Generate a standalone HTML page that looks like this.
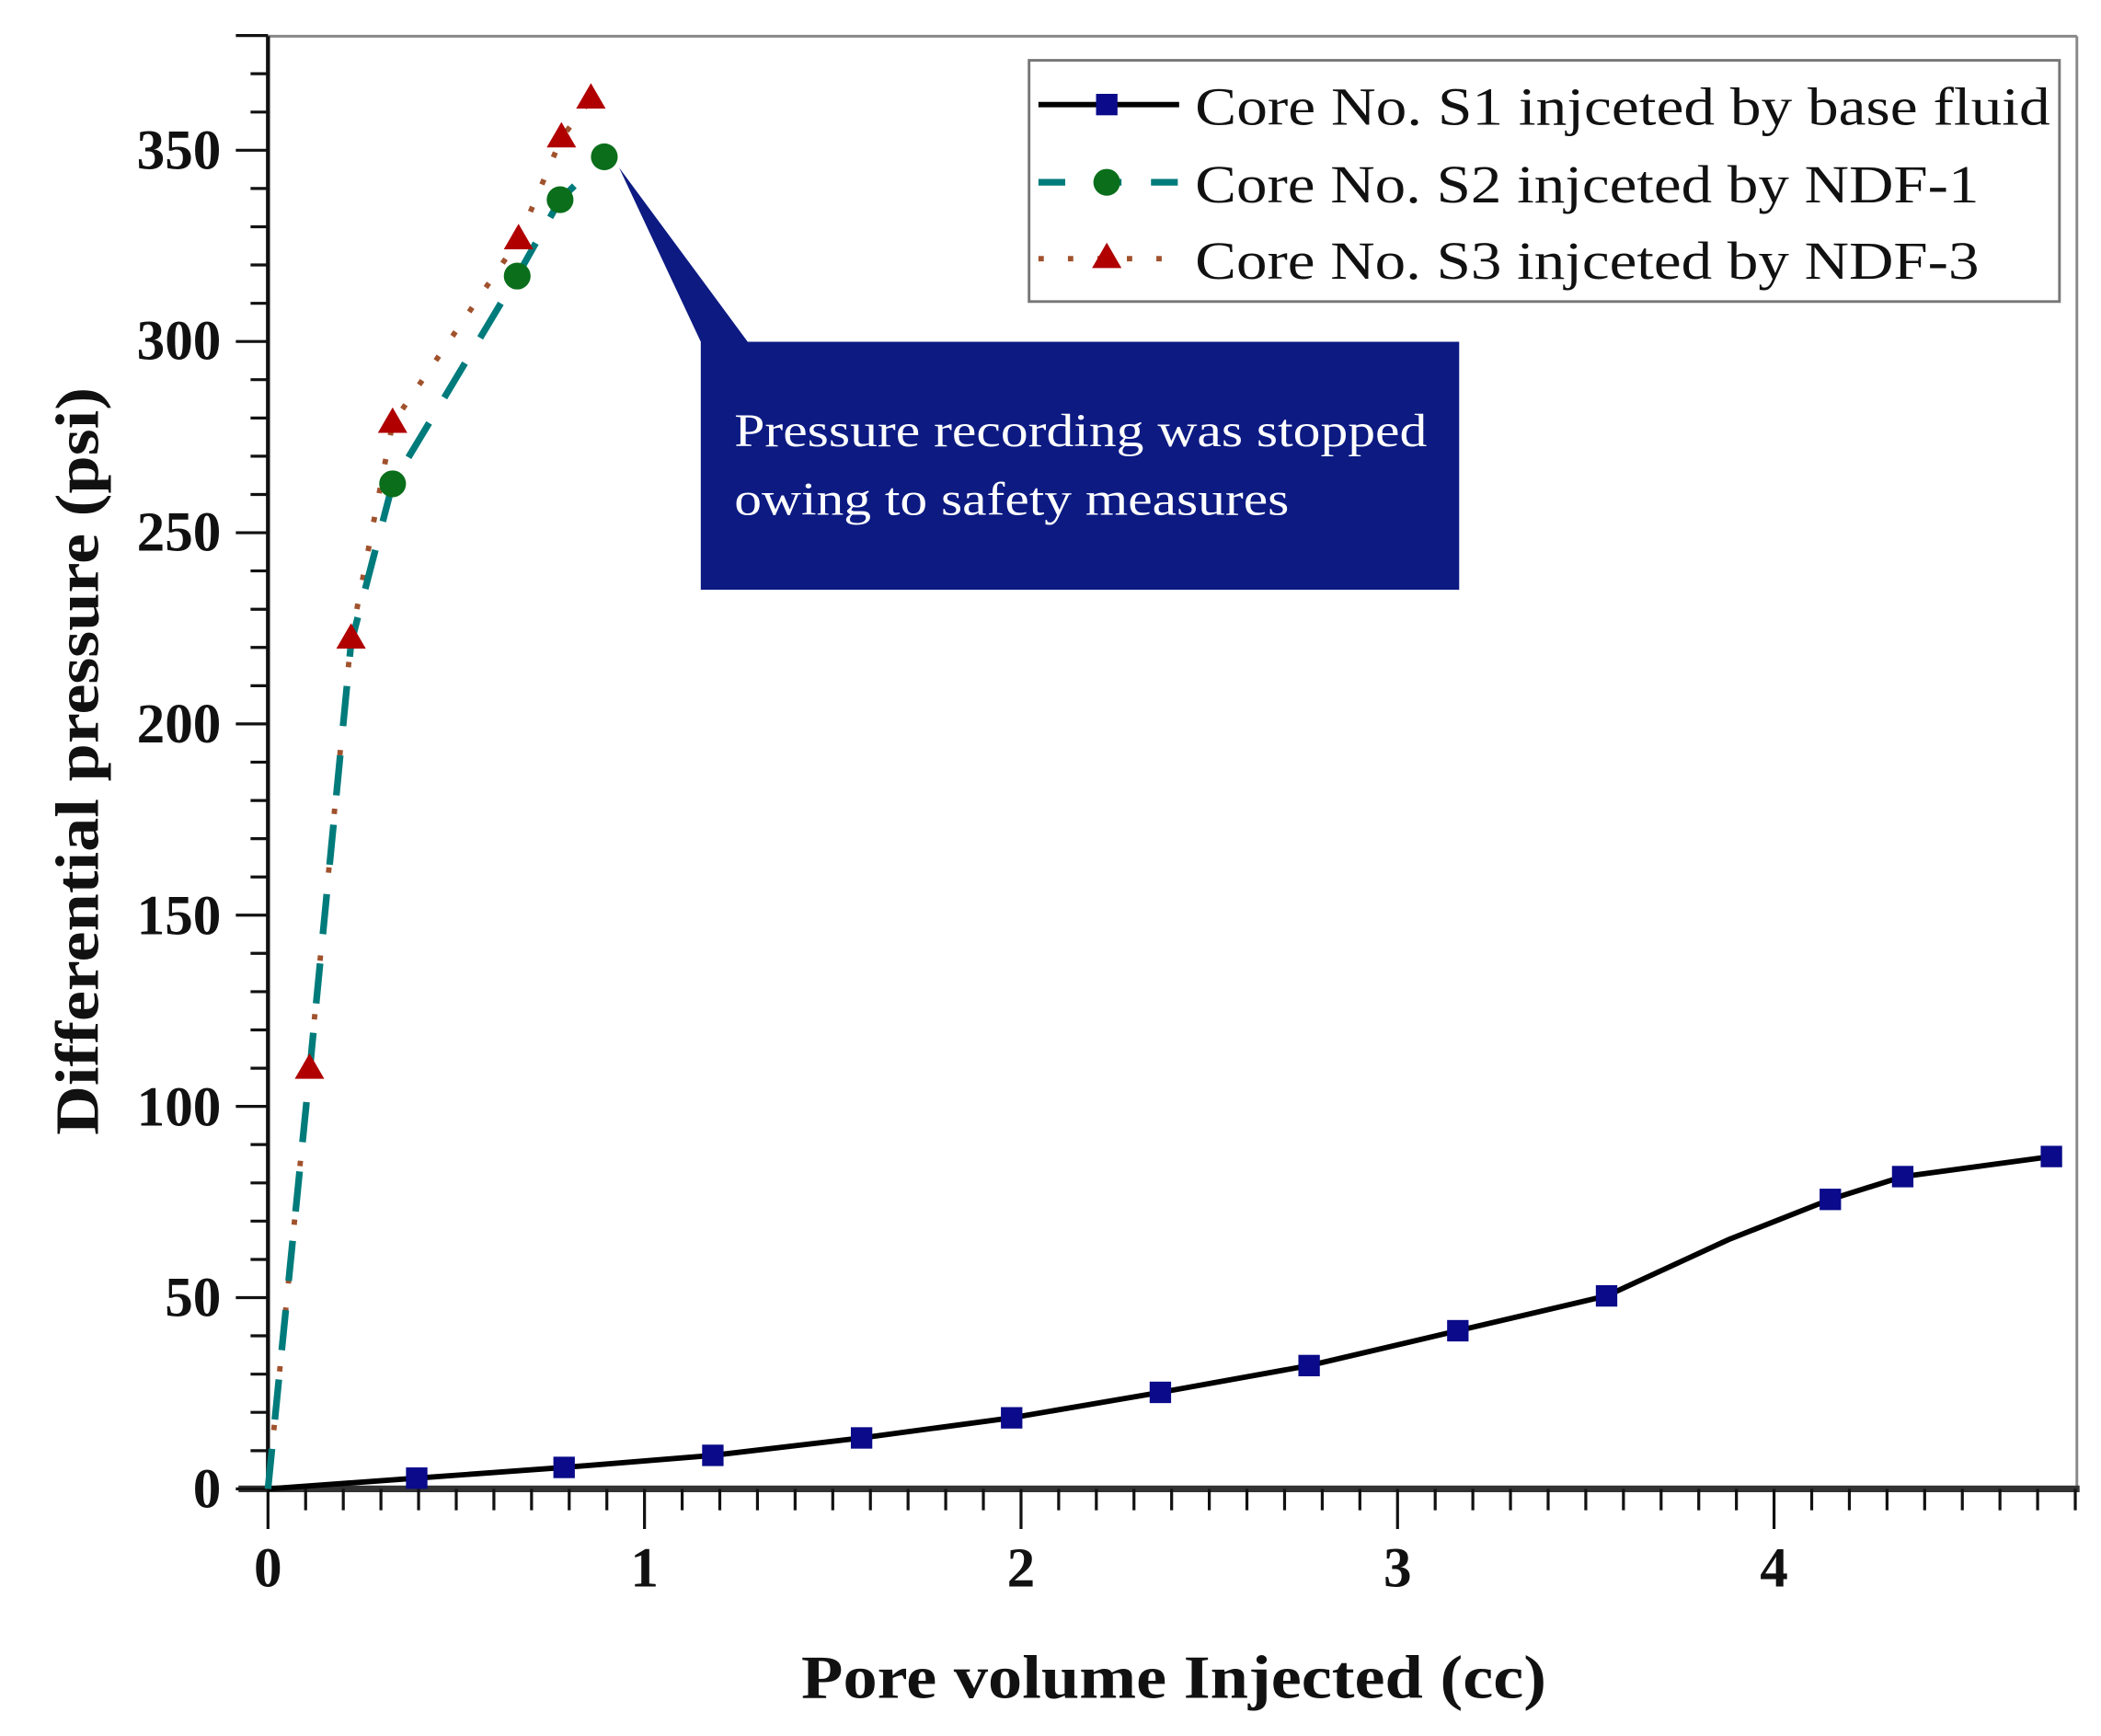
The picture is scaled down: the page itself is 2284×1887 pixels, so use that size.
<!DOCTYPE html>
<html><head><meta charset="utf-8"><style>html,body{margin:0;padding:0;background:#fff}svg{display:block}</style></head>
<body>
<svg width="2284" height="1887" viewBox="0 0 1568 1295.4" xmlns="http://www.w3.org/2000/svg" font-family="Liberation Serif, serif">
<rect width="1568" height="1296" fill="#fff"/>
<line x1="200" y1="27" x2="1550" y2="27" stroke="#888" stroke-width="2"/>
<line x1="1550" y1="27" x2="1550" y2="1111" stroke="#888" stroke-width="2"/>
<line x1="200" y1="27" x2="200" y2="1111" stroke="#111" stroke-width="3"/>
<line x1="178" y1="1111" x2="1552" y2="1111" stroke="#333" stroke-width="5"/>
<path stroke="#111" stroke-width="2.2" fill="none" d="
M176 1111h24 M187 1082.5h13 M187 1053.9h13 M187 1025.4h13 M187 996.8h13 M176 968.3h24 M187 939.8h13 M187 911.2h13 M187 882.7h13 M187 854.1h13
M176 825.6h24 M187 797.1h13 M187 768.5h13 M187 740h13 M187 711.4h13 M176 682.9h24 M187 654.4h13 M187 625.8h13 M187 597.3h13 M187 568.7h13
M176 540.2h24 M187 511.7h13 M187 483.1h13 M187 454.6h13 M187 426h13 M176 397.5h24 M187 369h13 M187 340.4h13 M187 311.9h13 M187 283.3h13
M176 254.8h24 M187 226.3h13 M187 197.7h13 M187 169.2h13 M187 140.6h13 M176 112.1h24 M187 83.6h13 M187 55h13 M176 26.5h24
M200 1111v30 M228.1 1111v16 M256.2 1111v16 M284.3 1111v16 M312.4 1111v16 M340.5 1111v16 M368.6 1111v16 M396.7 1111v16 M424.8 1111v16 M452.9 1111v16
M481 1111v30 M509.1 1111v16 M537.2 1111v16 M565.3 1111v16 M593.4 1111v16 M621.5 1111v16 M649.6 1111v16 M677.7 1111v16 M705.8 1111v16 M733.9 1111v16
M762 1111v30 M790.1 1111v16 M818.2 1111v16 M846.3 1111v16 M874.4 1111v16 M902.5 1111v16 M930.6 1111v16 M958.7 1111v16 M986.8 1111v16 M1014.9 1111v16
M1043 1111v30 M1071.1 1111v16 M1099.2 1111v16 M1127.3 1111v16 M1155.4 1111v16 M1183.5 1111v16 M1211.6 1111v16 M1239.7 1111v16 M1267.8 1111v16 M1295.9 1111v16
M1324 1111v30 M1352.1 1111v16 M1380.2 1111v16 M1408.3 1111v16 M1436.4 1111v16 M1464.5 1111v16 M1492.6 1111v16 M1520.7 1111v16 M1548.8 1111v16"/>
<g font-size="42" font-weight="bold" text-anchor="end" fill="#111">
<text x="165" y="1125">0</text><text x="165" y="982">50</text><text x="165" y="840">100</text>
<text x="165" y="697">150</text><text x="165" y="554">200</text><text x="165" y="411">250</text>
<text x="165" y="268">300</text><text x="165" y="126">350</text>
</g>
<g font-size="42" font-weight="bold" text-anchor="middle" fill="#111">
<text x="200" y="1184">0</text><text x="481" y="1184">1</text><text x="762" y="1184">2</text><text x="1043" y="1184">3</text><text x="1324" y="1184">4</text>
</g>
<text x="876" y="1267" font-size="46" font-weight="bold" text-anchor="middle" textLength="556" lengthAdjust="spacingAndGlyphs" fill="#111">Pore volume Injected (cc)</text>
<text transform="translate(73,568) rotate(-90)" font-size="46" font-weight="bold" text-anchor="middle" textLength="558" lengthAdjust="spacingAndGlyphs" fill="#111">Differential pressure (psi)</text>
<polyline fill="none" stroke="#000" stroke-width="4" points="200,1111 311,1103 421,1095 532,1086 643,1073 755,1058 866,1039 977,1019 1088,993 1199,967 1290,925 1366,895 1420,878 1531,863"/>
<g fill="#0a0a8a">
<rect x="303" y="1095" width="16" height="16"/><rect x="413" y="1087" width="16" height="16"/><rect x="524" y="1078" width="16" height="16"/><rect x="635" y="1065" width="16" height="16"/><rect x="747" y="1050" width="16" height="16"/><rect x="858" y="1031" width="16" height="16"/><rect x="969" y="1011" width="16" height="16"/><rect x="1080" y="985" width="16" height="16"/><rect x="1191" y="959" width="16" height="16"/><rect x="1358" y="887" width="16" height="16"/><rect x="1412" y="870" width="16" height="16"/><rect x="1523" y="855" width="16" height="16"/>
</g>
<polyline fill="none" stroke="#a0522d" stroke-width="4" stroke-dasharray="4,18" points="200,1111 231,798 262,477 293,316 387,179 419,103 441,74"/>
<polyline fill="none" stroke="#007b7b" stroke-width="5" stroke-dasharray="30,22" points="200,1111 215,960 231,800 262,480 293,361 386,206 418,149 451,117"/>
<g fill="#0a6e1a">
<circle cx="293" cy="361" r="10"/><circle cx="386" cy="206" r="10"/><circle cx="418" cy="149" r="10"/><circle cx="451" cy="117" r="10"/>
</g>
<g fill="#b00000">
<polygon points="231,786 220,805 242,805"/><polygon points="262,465 251,484 273,484"/><polygon points="293,304 282,323 304,323"/><polygon points="387,167 376,186 398,186"/><polygon points="419,91 408,110 430,110"/><polygon points="441,62 430,81 452,81"/>
</g>
<polygon points="462,125 558,255 1089,255 1089,440 523,440 523,255" fill="#0c1a82"/>
<text x="548" y="333" font-size="35" fill="#fff" textLength="517" lengthAdjust="spacingAndGlyphs">Pressure recording was stopped</text>
<text x="548" y="384" font-size="35" fill="#fff" textLength="414" lengthAdjust="spacingAndGlyphs">owing to safety measures</text>
<rect x="768" y="45" width="769" height="180" fill="#fff" stroke="#777" stroke-width="2"/>
<line x1="775" y1="78" x2="880" y2="78" stroke="#000" stroke-width="4"/>
<rect x="818" y="70" width="16" height="16" fill="#0a0a8a"/>
<line x1="775" y1="136" x2="880" y2="136" stroke="#007b7b" stroke-width="5" stroke-dasharray="20,22"/>
<circle cx="826" cy="136" r="10" fill="#0a6e1a"/>
<line x1="775" y1="193" x2="880" y2="193" stroke="#a0522d" stroke-width="4" stroke-dasharray="4,18"/>
<polygon points="826,181 815,200 837,200" fill="#b00000"/>
<g font-size="40" fill="#111">
<text x="892" y="93" textLength="638" lengthAdjust="spacingAndGlyphs">Core No. S1 injceted by base fluid</text>
<text x="892" y="151" textLength="585" lengthAdjust="spacingAndGlyphs">Core No. S2 injceted by NDF-1</text>
<text x="892" y="208" textLength="585" lengthAdjust="spacingAndGlyphs">Core No. S3 injceted by NDF-3</text>
</g>
</svg>
</body></html>
